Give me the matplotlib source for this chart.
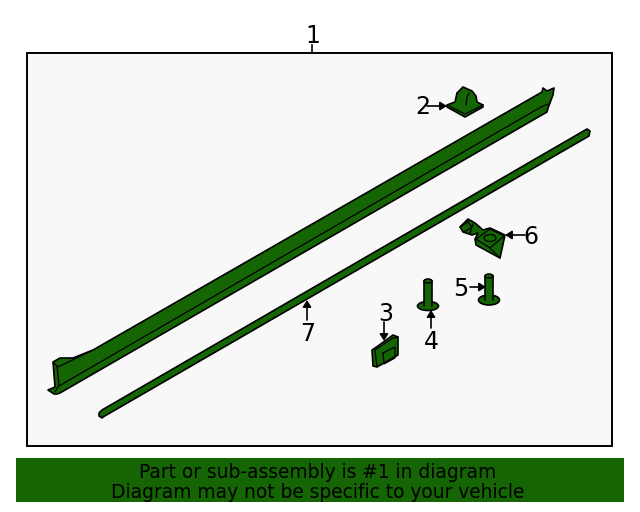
import matplotlib; matplotlib.use("Agg")
from matplotlib import pyplot as plt
from matplotlib.patches import Polygon, Ellipse, Rectangle

GREEN = "#156505"
# everything below in reference pixels (y down)
rocker = [(48, 390), (55, 387), (53, 362), (60, 358), (73, 358), (93, 350), (542, 92), (543, 88),
          (547, 91), (554, 88), (553, 95), (548, 108), (547, 112), (60, 393), (57, 394), (54, 394)]
rocker_lines = [[(54, 363), (58, 367), (93, 350)], [(57, 366), (59, 385), (55, 392)],
                [(59, 386), (541, 107), (548, 104)]]
strip = [(102, 410), (587, 129), (590, 131), (589, 136), (103, 417), (102, 418), (99, 416), (99, 413)]
clip = [(447, 105), (455, 102), (457, 93), (463, 87), (472, 91), (476, 96), (477, 102),
        (483, 105), (483, 107), (465, 117), (447, 107)]
clip_lines = [[(447, 105), (465, 114), (483, 105)], [(466, 105), (467, 97), (469, 93)]]
bracket = [(460, 227), (468, 219), (475, 223), (483, 230), (490, 228), (505, 235), (500, 258),
           (476, 245), (475, 239), (478, 233), (472, 235), (463, 232)]
bracket_lines = [[(476, 239), (490, 229), (504, 236), (490, 248), (476, 239)], [(490, 248), (500, 258)],
                 [(460, 227), (468, 222), (472, 227), (464, 232)], [(468, 222), (468, 219)],
                 [(473, 224), (470, 233)]]
clip3 = [(372, 350), (378, 346), (393, 335), (398, 337), (398, 355), (377, 367), (373, 366)]
clip3_lines = [[(375, 350), (393, 338), (398, 337)], [(375, 350), (377, 367)],
               [(383, 353), (395, 347), (395, 358), (384, 364), (383, 353)]]
pins = {"4": (428, 306, 424, 432, 281, 21, 9), "5": (489, 300, 485, 493, 276, 21, 10)}

arrows = [((427, 106), (447, 106)), ((525, 235), (505, 235)), ((470, 287), (486, 287)),
          ((431, 328), (431, 310)), ((384, 322), (384, 341)), ((307, 320), (307, 300))]
labels = [("1", 313, 36), ("2", 423, 107), ("3", 386, 314), ("4", 431, 342),
          ("5", 461, 289), ("6", 531, 237), ("7", 308, 334)]
banner_lines = ["Part or sub-assembly is #1 in diagram", "Diagram may not be specific to your vehicle"]

fig = plt.figure(figsize=(6.4, 5.12), dpi=100)
ax = fig.add_axes([0, 0, 1, 1])
ax.set_xlim(0, 640); ax.set_ylim(512, 0); ax.axis("off")

ax.add_patch(Rectangle((27, 53), 585, 393, fc="#f8f8f8", ec="black", lw=1.4))
ax.add_patch(Rectangle((16, 458), 608, 44, fc=GREEN, ec="none"))
ax.plot([312, 312], [45, 53], color="black", lw=1.2)

for shape, extra in [(rocker, rocker_lines), (strip, []), (clip, clip_lines),
                     (bracket, bracket_lines), (clip3, clip3_lines)]:
    ax.add_patch(Polygon(shape, closed=True, fc=GREEN, ec="black", lw=1.2, joinstyle="round"))
    for seg in extra:
        ax.plot(*zip(*seg), color="black", lw=0.9, solid_capstyle="round")

ax.add_patch(Ellipse((490, 238), 12, 7, fc=GREEN, ec="black", lw=0.9))

for cx, cy, x0, x1, top, w, h in pins.values():
    ax.add_patch(Ellipse((cx, cy), w, h, fc=GREEN, ec="black", lw=1.2))
    ax.add_patch(Rectangle((x0, top), x1 - x0, cy - top, fc=GREEN, ec="none", zorder=3))
    ax.plot([x0, x0], [top, cy], color="black", lw=1.2, zorder=4)
    ax.plot([x1, x1], [top, cy], color="black", lw=1.2, zorder=4)
    ax.add_patch(Ellipse((cx, top), x1 - x0, 4, fc=GREEN, ec="black", lw=1.1, zorder=4))

for a, b in arrows:
    ax.annotate("", xy=b, xytext=a, arrowprops=dict(arrowstyle="-|>,head_width=0.25,head_length=0.4",
                                                   color="black", lw=1.2, shrinkA=0, shrinkB=0), zorder=6)
for txt, x, y in labels:
    ax.text(x, y, txt, fontsize=17, ha="center", va="center", color="black")
for i, line in enumerate(banner_lines):
    ax.text(317.5, 472 + 20 * i, line, fontsize=13.4, ha="center", va="center", color="black")

fig.savefig("out.png", dpi=100)
